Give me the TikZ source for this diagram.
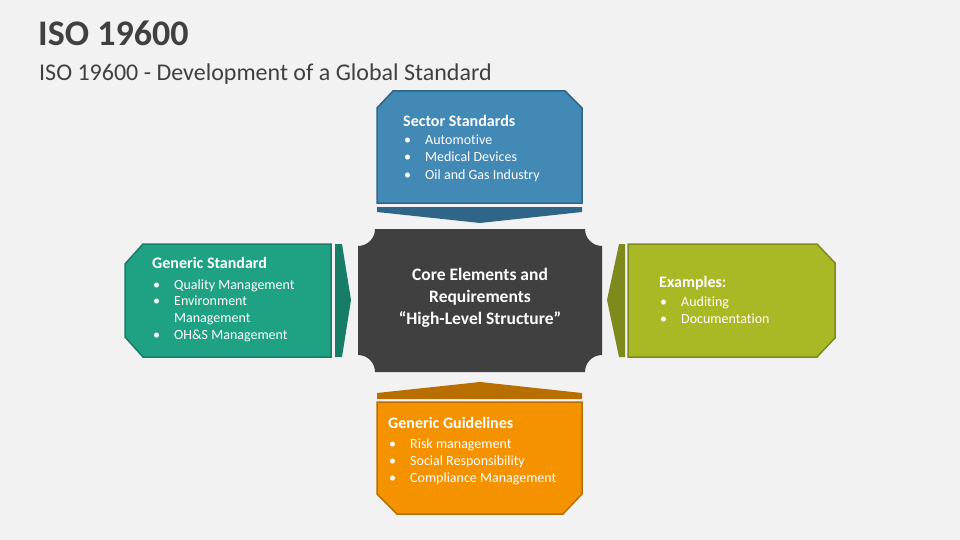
\documentclass[tikz,border=0pt]{standalone}
\usepackage{fontspec}
\setmainfont{Carlito}[Ligatures=NoCommon]
\definecolor{bg}{HTML}{F2F2F2}
\definecolor{titlec}{HTML}{404040}
\definecolor{blueF}{HTML}{4389B6}
\definecolor{blueD}{HTML}{2F6586}
\definecolor{coreF}{HTML}{404040}
\definecolor{tealF}{HTML}{1FA184}
\definecolor{tealD}{HTML}{177D67}
\definecolor{oliveF}{HTML}{A9B825}
\definecolor{oliveD}{HTML}{7E8A1C}
\definecolor{orangeF}{HTML}{F59200}
\definecolor{orangeD}{HTML}{B96F00}
\tikzset{
  boxshape/.style={line width=1.5pt},
  txt/.style={anchor=base west, inner sep=0pt, text=white, font=\fontsize{14}{16}\selectfont},
  head/.style={anchor=base west, inner sep=0pt, text=white, font=\fontsize{16}{18}\selectfont\bfseries},
}
\begin{document}
\begin{tikzpicture}[x=1pt,y=-1pt]
\path[fill=bg] (0,0) rectangle (960,540);
\useasboundingbox (0,0) rectangle (960,540);

% titles
\node[anchor=base west, inner sep=0pt, text=titlec, font=\fontsize{36}{40}\selectfont\bfseries] (title) at (38,46) {ISO 19600};
\node[anchor=base west, inner sep=0pt, text=titlec, font=\fontsize{24}{28}\selectfont] (subtitle) at (39,81) {ISO 19600 - Development of a Global Standard};

% top box
\path[boxshape, fill=blueF, draw=blueD] (377,108) -- (393,91) -- (565,91) -- (582,108) -- (582,203) -- (377,203) -- cycle;
\path[fill=blueD] (377,207) -- (582,207) -- (582,212) -- (480,223) -- (377,212) -- cycle;

% bottom box
\path[boxshape, fill=orangeF, draw=orangeD] (377,402) -- (582,402) -- (582,494) -- (563,514) -- (397,514) -- (377,494) -- cycle;
\path[fill=orangeD] (377,399) -- (582,399) -- (582,393) -- (480,382) -- (377,393) -- cycle;

% left box
\path[boxshape, fill=tealF, draw=tealD] (125,264) -- (143,244) -- (331,244) -- (331,357) -- (143,357) -- (125,337) -- cycle;
\path[fill=tealD] (335,244) -- (342,244) -- (351,300) -- (342,357) -- (335,357) -- cycle;

% right box
\path[boxshape, fill=oliveF, draw=oliveD] (628,244) -- (817,244) -- (835,263) -- (835,338) -- (817,357) -- (628,357) -- cycle;
\path[fill=oliveD] (625,244) -- (619,244) -- (607,300) -- (619,357) -- (625,357) -- cycle;

% core box with concave corners
\path[fill=coreF] (375,229) -- (585,229)
  .. controls (585,238.4) and (592.6,246) .. (602,246)
  -- (602,355)
  .. controls (592.6,355) and (585,362.6) .. (585,372)
  -- (375,372)
  .. controls (375,362.6) and (367.4,355) .. (358,355)
  -- (358,246)
  .. controls (367.4,246) and (375,238.4) .. (375,229) -- cycle;
\node[inner sep=0pt, text=white, align=center, font=\fontsize{17.5}{22}\selectfont\bfseries] (core) at (480,298) {Core Elements and\\Requirements\\“High-Level Structure”};

% top box text
\node[head] (sh) at (403,127) {Sector Standards};
\node[txt] (sb1) at (404,145) {•}; \node[txt] (st1) at (425,145) {Automotive};
\node[txt] (sb2) at (404,162) {•}; \node[txt] (st2) at (425,162) {Medical Devices};
\node[txt] (sb3) at (404,179) {•}; \node[txt] (st3) at (425,179) {Oil and Gas Industry};

% left box text
\node[head] (lh) at (152,268) {Generic Standard};
\node[txt] (lb1) at (153,289) {•}; \node[txt] (lt1) at (174,289) {Quality Management};
\node[txt] (lb2) at (153,305) {•}; \node[txt] (lt2) at (174,305) {Environment};
\node[txt] (lt2b) at (174,322) {Management};
\node[txt] (lb3) at (153,339) {•}; \node[txt] (lt3) at (174,339) {OH\&S Management};

% right box text
\node[head] (rh) at (659,287) {Examples:};
\node[txt] (rb1) at (660,306) {•}; \node[txt] (rt1) at (681,306) {Auditing};
\node[txt] (rb2) at (660,323) {•}; \node[txt] (rt2) at (681,323) {Documentation};

% bottom box text
\node[head] (bh) at (388,428) {Generic Guidelines};
\node[txt] (bb1) at (389,448) {•}; \node[txt] (bt1) at (410,448) {Risk management};
\node[txt] (bb2) at (389,465) {•}; \node[txt] (bt2) at (410,465) {Social Responsibility};
\node[txt] (bb3) at (389,482) {•}; \node[txt] (bt3) at (410,482) {Compliance Management};
\end{tikzpicture}
\end{document}
